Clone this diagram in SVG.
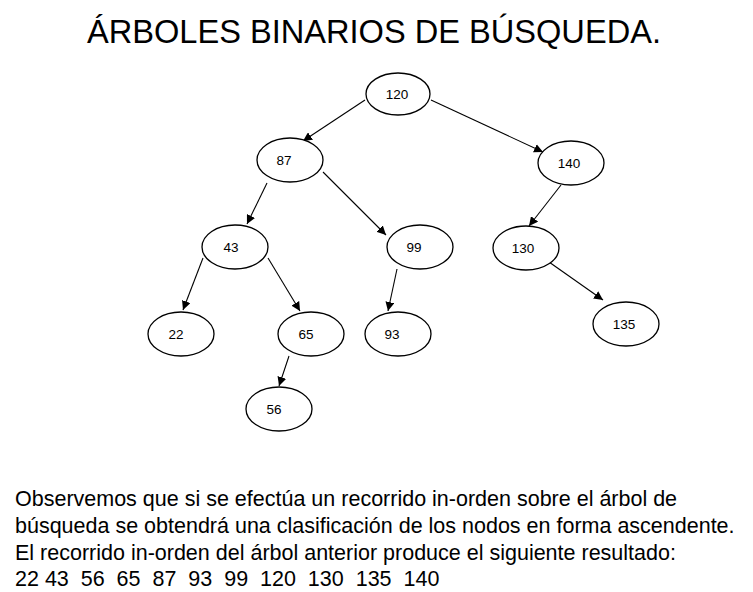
<svg xmlns="http://www.w3.org/2000/svg" width="753" height="592" viewBox="0 0 753 592">
<style>
ellipse{fill:#fff;stroke:#000;stroke-width:1.3}
.l{font-family:"Liberation Sans",Arial,sans-serif;font-size:13.5px;text-anchor:middle}
.c line{stroke:#000;stroke-width:1.1;marker-end:url(#a)}
.t{font-family:"Liberation Sans",Arial,sans-serif;font-size:21.5px}
</style>
<defs><marker id="a" viewBox="0 0 10 10" refX="10" refY="5" markerWidth="9" markerHeight="9" markerUnits="userSpaceOnUse" orient="auto"><path d="M0,0L10,5L0,10z"/></marker></defs>
<rect width="753" height="592" fill="#fff"/>
<text x="374" y="43" text-anchor="middle" font-family="'Liberation Sans',Arial,sans-serif" font-size="32.6">ÁRBOLES BINARIOS DE BÚSQUEDA.</text>
<g class="c">
<line x1="365" y1="100" x2="303" y2="141"/>
<line x1="431" y1="100" x2="543" y2="152"/>
<line x1="267" y1="183" x2="247" y2="224"/>
<line x1="323" y1="172" x2="386" y2="235"/>
<line x1="561" y1="185" x2="529" y2="226"/>
<line x1="203" y1="258" x2="183" y2="310"/>
<line x1="268" y1="258" x2="300" y2="311"/>
<line x1="397" y1="269" x2="388" y2="311"/>
<line x1="549" y1="262" x2="603" y2="300"/>
<line x1="289" y1="356" x2="279" y2="386"/>
</g>
<g id="n120"><ellipse cx="398" cy="94" rx="32" ry="21"/><text class="l" x="397" y="99">120</text></g>
<g id="n87"><ellipse cx="290" cy="160" rx="33" ry="22"/><text class="l" x="284" y="165">87</text></g>
<g id="n140"><ellipse cx="571" cy="163" rx="33" ry="22"/><text class="l" x="569" y="168">140</text></g>
<g id="n43"><ellipse cx="235" cy="247" rx="33" ry="22"/><text class="l" x="231" y="252">43</text></g>
<g id="n99"><ellipse cx="420" cy="247" rx="33" ry="22"/><text class="l" x="414" y="252">99</text></g>
<g id="n130"><ellipse cx="526" cy="248" rx="33" ry="22"/><text class="l" x="523" y="253">130</text></g>
<g id="n22"><ellipse cx="181" cy="334" rx="33" ry="22"/><text class="l" x="176" y="339">22</text></g>
<g id="n65"><ellipse cx="311" cy="334" rx="33" ry="22"/><text class="l" x="306" y="339">65</text></g>
<g id="n93"><ellipse cx="398" cy="334" rx="33" ry="22"/><text class="l" x="392" y="339">93</text></g>
<g id="n135"><ellipse cx="626" cy="324" rx="33" ry="22"/><text class="l" x="624" y="329">135</text></g>
<g id="n56"><ellipse cx="279" cy="409" rx="33" ry="22"/><text class="l" x="274" y="414">56</text></g>
<text class="t" x="15" y="506">Observemos que si se efectúa un recorrido in-orden sobre el árbol de</text>
<text class="t" x="15" y="533">búsqueda se obtendrá una clasificación de los nodos en forma ascendente.</text>
<text class="t" x="15" y="560">El recorrido in-orden del árbol anterior produce el siguiente resultado:</text>
<text class="t" x="15" y="586" xml:space="preserve">22 43  56  65  87  93  99  120  130  135  140</text>
</svg>
